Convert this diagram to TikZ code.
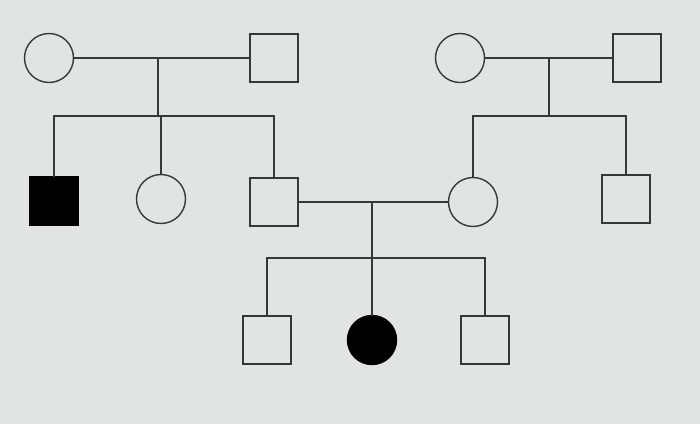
\documentclass[tikz,border=0pt]{standalone}
\definecolor{bg}{RGB}{226,228,227}
\definecolor{ln}{RGB}{55,55,55}
\tikzset{
  base/.style={draw=ln, line width=1.4pt, inner sep=0pt, outer sep=0pt},
  male/.style={base, rectangle, minimum size=48pt},
  female/.style={base, circle, minimum size=49pt},
  affected/.style={fill=black, draw=black},
  link/.style={draw=ln, line width=1.4pt}
}
\begin{document}
\begin{tikzpicture}[x=1pt,y=-1pt]
\fill[bg] (0,0) rectangle (700,424);
\useasboundingbox (0,0) rectangle (700,424);
% generation I
\node[female] (A) at (49,58) {};
\node[male] (B) at (274,58) {};
\node[female] (F) at (460,58) {};
\node[male] (G) at (637,58) {};
% generation II
\node[male,affected] (C) at (54,201) {};
\node[female] (D) at (161,199) {};
\node[male] (E) at (274,202) {};
\node[female] (H) at (473,202) {};
\node[male] (I) at (626,199) {};
% generation III
\node[male] (J) at (267,340) {};
\node[female,affected] (K) at (372,340) {};
\node[male] (L) at (485,340) {};
% coordinates
\coordinate (m1) at (158,58);
\coordinate (s1) at (158,116);
\coordinate (m2) at (549,58);
\coordinate (s2) at (549,116);
\coordinate (m3) at (372,202);
\coordinate (s3) at (372,258);
% family 1
\draw[link] (A.east) -- (B.west);
\draw[link] (m1) -- (s1);
\draw[link] (C.north) |- (s1) -| (E.north);
\draw[link] (D.north) -- (D.north |- s1);
% family 2
\draw[link] (F.east) -- (G.west);
\draw[link] (m2) -- (s2);
\draw[link] (H.north) |- (s2) -| (I.north);
% family 3
\draw[link] (E.east) -- (H.west);
\draw[link] (m3) -- (s3);
\draw[link] (J.north) |- (s3) -| (L.north);
\draw[link] (K.north) -- (s3);
\end{tikzpicture}
\end{document}
